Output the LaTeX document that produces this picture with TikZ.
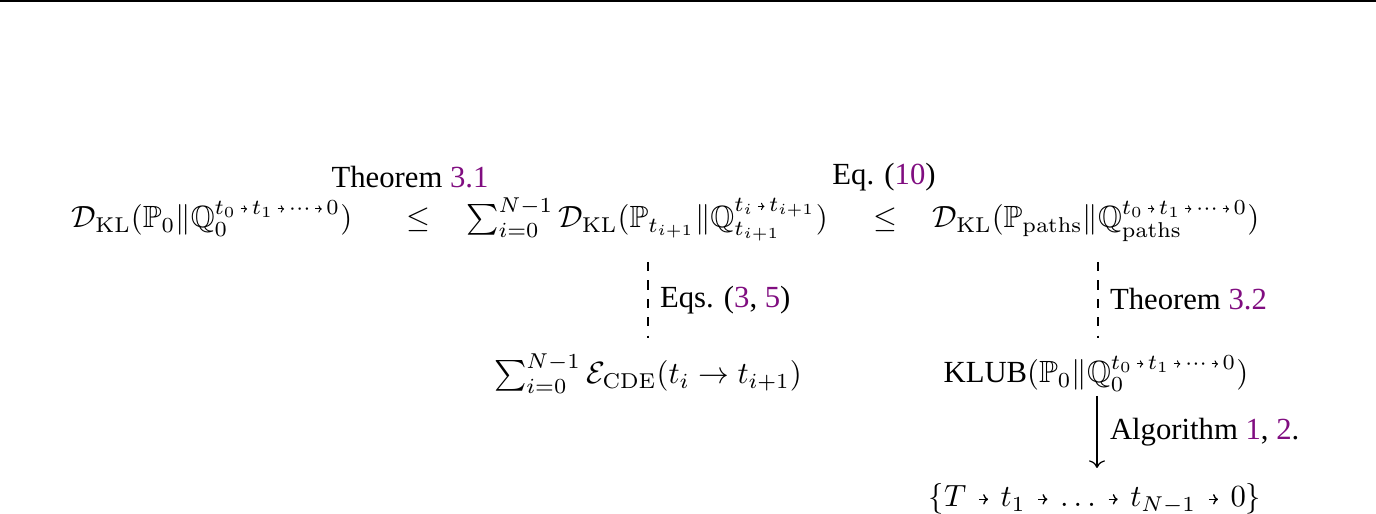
\documentclass[tikz,border=0pt]{standalone}
\usepackage[no-math]{fontspec}
\setmainfont{Liberation Serif}
\usepackage{amsmath,amssymb}
\usetikzlibrary{arrows.meta}
\definecolor{refc}{rgb}{0.5,0.05,0.5}
\newcommand{\rf}[1]{\textcolor{refc}{#1}}
\newcommand{\arrbody}{\text{\tikz[baseline=-0.25em]\draw[line width=0.045em,-{To[length=0.16em,width=0.34em]}] (0,0)--(0.3em,0);}}
\newcommand{\sarr}{\mathrel{\mkern2mu\arrbody\mkern2mu}}
\newcommand{\sarrs}{\mkern3mu\arrbody\mkern3mu}
\tikzset{
  txt/.style={inner sep=0pt, outer sep=0pt},
  rel/.style={inner sep=0pt, outer sep=0pt},
  dsh/.style={dashed, line width=0.4pt},
  arr/.style={->, line width=0.4pt}
}
\begin{document}
\begin{tikzpicture}[x=0.3257pt, y=-0.3257pt]
\useasboundingbox (0,0) rectangle (1376,514);
\draw[line width=0.55pt] (0,1.2) -- (1376,1.2);
% labels above
\node[txt, anchor=base] (th1) at (410,188) {Theorem \rf{3.1}};
\node[txt, anchor=base] (eq10) at (884,185) {Eq. (\rf{10})};
% row 1
\node[txt, anchor=base] (f1) at (212,228) {$\mathcal{D}_{\mathrm{KL}}(\mathbb{P}_0\|\mathbb{Q}_0^{t_0\sarrs t_1\sarrs\cdots\sarrs 0})$};
\node[rel, anchor=base] (le1) at (418,228) {$\leq$};
\node[txt, anchor=base] (f2) at (647,228) {$\sum_{i=0}^{N-1}\mathcal{D}_{\mathrm{KL}}(\mathbb{P}_{t_{i+1}}\|\mathbb{Q}_{t_{i+1}}^{t_i\sarrs t_{i+1}})$};
\node[rel, anchor=base] (le2) at (885,228) {$\leq$};
\node[txt, anchor=base] (f3) at (1096,228) {$\mathcal{D}_{\mathrm{KL}}(\mathbb{P}_{\mathrm{paths}}\|\mathbb{Q}_{\mathrm{paths}}^{t_0\sarrs t_1\sarrs\cdots\sarrs 0})$};
% row 3
\node[txt, anchor=base] (e1) at (648,384) {$\sum_{i=0}^{N-1}\mathcal{E}_{\mathrm{CDE}}(t_i\rightarrow t_{i+1})$};
\node[txt, anchor=base] (k) at (1096,383) {KLUB$(\mathbb{P}_0\|\mathbb{Q}_0^{t_0\sarrs t_1\sarrs\cdots\sarrs 0})$};
% bottom
\node[txt, anchor=base] (b) at (1095,507) {$\{T\sarr t_1\sarr\ldots\sarr t_{N-1}\sarr 0\}$};
% connectors
\coordinate (d1s) at (e1.north |- 0,262);
\coordinate (d1e) at (e1.north |- 0,338);
\draw[dsh] (d1s) -- (d1e);
\coordinate (d2s) at (1098,262);
\coordinate (d2e) at (1098,338);
\draw[dsh] (d2s) -- (d2e);
\node[txt, anchor=base west] (l1) at (660,308) {Eqs. (\rf{3}, \rf{5})};
\node[txt, anchor=base west] (l2) at (1110,310) {Theorem \rf{3.2}};
\coordinate (as) at (1097,396);
\coordinate (ae) at (1097,468);
\draw[arr] (as) -- (ae);
\node[txt, anchor=base west] (l3) at (1110,440) {Algorithm \rf{1}, \rf{2}.};
\end{tikzpicture}
\end{document}
